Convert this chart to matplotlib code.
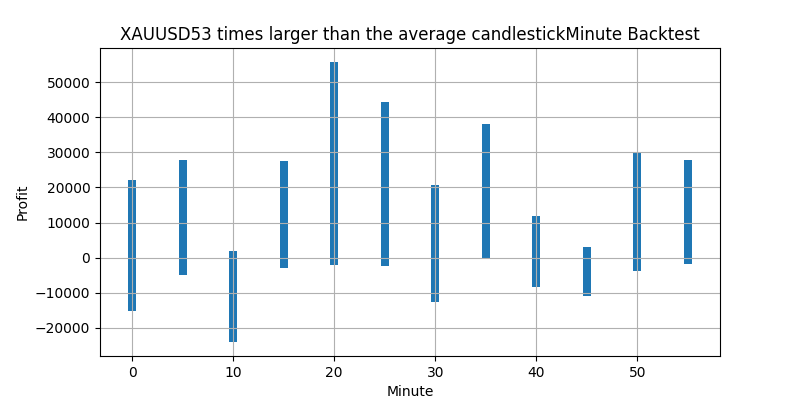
import matplotlib
matplotlib.use("Agg")
import matplotlib.pyplot as plt

minutes = [0, 5, 10, 15, 20, 25, 30, 35, 40, 45, 50, 55]
max_profit = [22100, 27800, 1800, 27500, 55800, 44400, 20650, 38100, 11800, 2950, 29800, 27800]
min_profit = [-15250, -5000, -24100, -3000, -2100, -2400, -12700, 0, -8400, -10950, -3800, -1800]

fig, ax = plt.subplots(figsize=(8, 4), dpi=100)
ax.bar(minutes, max_profit, color="#1f77b4")
ax.bar(minutes, min_profit, color="#1f77b4")
ax.set_title("XAUUSD53 times larger than the average candlestickMinute Backtest")
ax.set_xlabel("Minute")
ax.set_ylabel("Profit")
ax.grid(True)
fig.savefig("out.png")
